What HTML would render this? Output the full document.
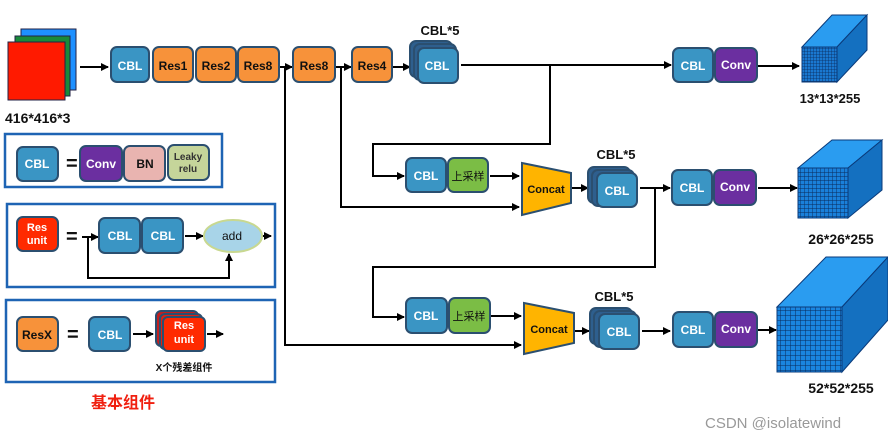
<!DOCTYPE html>
<html><head><meta charset="utf-8"><style>
html,body{margin:0;padding:0;background:#fff;}
svg{display:block;}
text{font-family:"Liberation Sans","Noto Sans CJK SC",sans-serif;font-weight:bold;}
</style></head><body>
<svg width="888" height="438" viewBox="0 0 888 438" xmlns="http://www.w3.org/2000/svg">
<defs>
<marker id="ar" markerWidth="8" markerHeight="8" refX="7" refY="4" orient="auto" markerUnits="userSpaceOnUse"><path d="M0,0 L8,4 L0,8 z" fill="#000"/></marker>
<pattern id="g1" width="3" height="3" patternUnits="userSpaceOnUse"><rect width="3" height="3" fill="#1a78d0"/><path d="M0,0H3M0,0V3" stroke="#0a2a5a" stroke-width="0.8"/></pattern>
<pattern id="g2" width="4" height="4" patternUnits="userSpaceOnUse"><rect width="4" height="4" fill="#1a80da"/><path d="M0,0H4M0,0V4" stroke="#0a2a5a" stroke-width="0.9"/></pattern>
<pattern id="g3" width="5" height="5" patternUnits="userSpaceOnUse"><rect width="5" height="5" fill="#1a85e0"/><path d="M0,0H5M0,0V5" stroke="#0a2a5a" stroke-width="1"/></pattern>
</defs>
<g stroke="#000" stroke-width="2" fill="none">
<line x1="80" y1="67" x2="108" y2="67" marker-end="url(#ar)"/>
<line x1="280" y1="67" x2="292" y2="67" marker-end="url(#ar)"/>
<line x1="336" y1="67" x2="351" y2="67" marker-end="url(#ar)"/>
<line x1="393" y1="67" x2="410" y2="67" marker-end="url(#ar)"/>
<polyline points="285,67 285,345 521,345" marker-end="url(#ar)"/>
<polyline points="341,67 341,207 519,207" marker-end="url(#ar)"/>
<line x1="461" y1="65" x2="671" y2="65" marker-end="url(#ar)"/>
<polyline points="550,65 550,144 373,144 373,176 404,176" marker-end="url(#ar)"/>
<line x1="758" y1="66" x2="799" y2="66" marker-end="url(#ar)"/>
<line x1="490" y1="176" x2="519" y2="176" marker-end="url(#ar)"/>
<line x1="572" y1="188" x2="588" y2="188" marker-end="url(#ar)"/>
<line x1="640" y1="188" x2="670" y2="188" marker-end="url(#ar)"/>
<polyline points="655,188 655,267 373,267 373,317 404,317" marker-end="url(#ar)"/>
<line x1="758" y1="188" x2="797" y2="188" marker-end="url(#ar)"/>
<line x1="491" y1="316" x2="521" y2="316" marker-end="url(#ar)"/>
<line x1="575" y1="331" x2="589" y2="331" marker-end="url(#ar)"/>
<line x1="642" y1="331" x2="670" y2="331" marker-end="url(#ar)"/>
<line x1="758" y1="330" x2="776" y2="330" marker-end="url(#ar)"/>
<line x1="82" y1="237" x2="98" y2="237" marker-end="url(#ar)"/>
<line x1="185" y1="236" x2="203" y2="236" marker-end="url(#ar)"/>
<line x1="262" y1="236" x2="271" y2="236" marker-end="url(#ar)"/>
<polyline points="88,237 88,278 229,278 229,254" marker-end="url(#ar)"/>
<line x1="133" y1="334" x2="153" y2="334" marker-end="url(#ar)"/>
<line x1="207" y1="334" x2="223" y2="334" marker-end="url(#ar)"/>
</g>
<rect x="21" y="29" width="55" height="61" fill="#1e90ff" stroke="#224" stroke-width="1"/>
<rect x="15" y="36" width="55" height="60" fill="#1a8a3a" stroke="#224" stroke-width="1"/>
<rect x="8" y="42" width="57" height="58" fill="#ff1a00" stroke="#224" stroke-width="1"/>
<text x="5" y="123" font-size="14" fill="#111">416*416*3</text>
<g stroke="#2b4f70" stroke-width="2">
<rect x="111" y="47" width="38" height="35" rx="6" fill="#3a95c4"/>
<rect x="153" y="47" width="40" height="35" rx="6" fill="#f7923a"/>
<rect x="196" y="47" width="40" height="35" rx="6" fill="#f7923a"/>
<rect x="238" y="47" width="41" height="35" rx="6" fill="#f7923a"/>
<rect x="293" y="47" width="42" height="35" rx="6" fill="#f7923a"/>
<rect x="352" y="47" width="40" height="35" rx="6" fill="#f7923a"/>
<rect x="410" y="41" width="42" height="36" rx="6" fill="#2e5f8e"/>
<rect x="414" y="44" width="42" height="36" rx="6" fill="#2e5f8e"/>
<rect x="418" y="48" width="40" height="35" rx="6" fill="#3a95c4"/>
<rect x="588" y="167" width="42" height="36" rx="6" fill="#2e5f8e"/>
<rect x="592" y="170" width="42" height="36" rx="6" fill="#2e5f8e"/>
<rect x="597" y="173" width="40" height="34" rx="6" fill="#3a95c4"/>
<rect x="590" y="308" width="42" height="36" rx="6" fill="#2e5f8e"/>
<rect x="594" y="311" width="42" height="36" rx="6" fill="#2e5f8e"/>
<rect x="599" y="314" width="40" height="35" rx="6" fill="#3a95c4"/>
<rect x="673" y="48" width="40" height="34" rx="6" fill="#3a95c4"/>
<rect x="715" y="48" width="42" height="34" rx="6" fill="#6b2fa0"/>
<rect x="672" y="170" width="40" height="35" rx="6" fill="#3a95c4"/>
<rect x="714" y="170" width="42" height="35" rx="6" fill="#6b2fa0"/>
<rect x="673" y="312" width="40" height="35" rx="6" fill="#3a95c4"/>
<rect x="715" y="312" width="42" height="35" rx="6" fill="#6b2fa0"/>
<rect x="406" y="158" width="40" height="34" rx="6" fill="#3a95c4"/>
<rect x="448" y="158" width="40" height="34" rx="6" fill="#7bbd45"/>
<rect x="406" y="298" width="41" height="35" rx="6" fill="#3a95c4"/>
<rect x="449" y="298" width="41" height="35" rx="6" fill="#7bbd45"/>
</g>
<polygon points="522,163 571,173 571,203 522,215" fill="#ffb400" stroke="#2b4f70" stroke-width="2"/>
<polygon points="524,303 574,313 574,343 524,354" fill="#ffb400" stroke="#2b4f70" stroke-width="2"/>
<g font-size="12" fill="#fff" text-anchor="middle">
<text x="130" y="70">CBL</text>
<text x="437" y="70">CBL</text><text x="617" y="195">CBL</text><text x="619" y="336">CBL</text>
<text x="693" y="70">CBL</text><text x="692" y="192">CBL</text><text x="693" y="334">CBL</text>
<text x="736" y="69">Conv</text><text x="735" y="191">Conv</text><text x="736" y="333">Conv</text>
<text x="426" y="180">CBL</text><text x="426" y="320">CBL</text>
</g>
<g font-size="12" fill="#111" text-anchor="middle">
<text x="173" y="70">Res1</text><text x="216" y="70">Res2</text><text x="258" y="70">Res8</text>
<text x="314" y="70">Res8</text><text x="372" y="70">Res4</text>
<text x="546" y="193" font-size="11">Concat</text><text x="549" y="333" font-size="11">Concat</text>
<text x="468" y="180" font-size="11" style="font-weight:normal">上采样</text>
<text x="469" y="320" font-size="11" style="font-weight:normal">上采样</text>
<text x="440" y="35" font-size="13">CBL*5</text>
<text x="616" y="159" font-size="13">CBL*5</text>
<text x="614" y="301" font-size="13">CBL*5</text>
<text x="830" y="103" font-size="13">13*13*255</text>
<text x="841" y="244" font-size="14">26*26*255</text>
<text x="841" y="393" font-size="14">52*52*255</text>
</g>
<polygon points="802,47 832,15 867,15 837,47" fill="#2a9cf0" stroke="#0a3a7a"/>
<polygon points="837,47 867,15 867,50 837,82" fill="#1470c0" stroke="#0a3a7a"/>
<rect x="802" y="47" width="35" height="35" fill="url(#g1)" stroke="#0a3a7a"/>
<polygon points="798,168 832,140 882,140 848,168" fill="#2a9cf0" stroke="#0a3a7a"/>
<polygon points="848,168 882,140 882,190 848,218" fill="#1470c0" stroke="#0a3a7a"/>
<rect x="798" y="168" width="50" height="50" fill="url(#g2)" stroke="#0a3a7a"/>
<polygon points="777,307 826,257 888,257 842,307" fill="#2a9cf0" stroke="#0a3a7a"/>
<polygon points="842,307 888,257 888,320 842,372" fill="#1470c0" stroke="#0a3a7a"/>
<rect x="777" y="307" width="65" height="65" fill="url(#g3)" stroke="#0a3a7a"/>
<g fill="none" stroke="#1e64b4" stroke-width="2.5">
<rect x="5" y="134" width="217" height="53"/>
<rect x="7" y="204" width="268" height="83"/>
<rect x="6" y="300" width="269" height="82"/>
</g>
<g stroke="#2b4f70" stroke-width="2">
<rect x="17" y="147" width="41" height="34" rx="6" fill="#3a95c4"/>
<rect x="80" y="146" width="42" height="35" rx="6" fill="#6b2fa0"/>
<rect x="124" y="146" width="41" height="35" rx="6" fill="#e9b4b0"/>
<rect x="168" y="145" width="41" height="35" rx="6" fill="#c5d59a"/>
<rect x="17" y="217" width="41" height="34" rx="6" fill="#ff2a00"/>
<rect x="99" y="218" width="41" height="35" rx="6" fill="#3a95c4"/>
<rect x="142" y="218" width="41" height="35" rx="6" fill="#3a95c4"/>
<rect x="17" y="317" width="41" height="34" rx="6" fill="#f7923a"/>
<rect x="89" y="317" width="41" height="34" rx="6" fill="#3a95c4"/>
<rect x="156" y="311" width="42" height="35" rx="5" fill="#c02020"/>
<rect x="160" y="314" width="42" height="35" rx="5" fill="#e02010"/>
<rect x="163" y="317" width="42" height="34" rx="5" fill="#ff2a00"/>
</g>
<ellipse cx="233" cy="236" rx="29" ry="16" fill="#a8d4e8" stroke="#c8d890" stroke-width="2"/>
<g font-size="12" text-anchor="middle">
<text x="37" y="168" fill="#fff">CBL</text>
<text x="101" y="168" fill="#fff">Conv</text>
<text x="145" y="168" fill="#111">BN</text>
<text x="188" y="160" fill="#333" font-size="10">Leaky</text>
<text x="188" y="172" fill="#333" font-size="10">relu</text>
<text x="37" y="231" fill="#fff" font-size="11">Res</text>
<text x="37" y="244" fill="#fff" font-size="11">unit</text>
<text x="120" y="240" fill="#fff">CBL</text>
<text x="163" y="240" fill="#fff">CBL</text>
<text x="232" y="240" fill="#111" style="font-weight:normal" font-size="12">add</text>
<text x="37" y="339" fill="#111">ResX</text>
<text x="110" y="339" fill="#fff">CBL</text>
<text x="184" y="329" fill="#fff" font-size="11">Res</text>
<text x="184" y="343" fill="#fff" font-size="11">unit</text>
<text x="184" y="371" fill="#111" font-size="10">X个残差组件</text>
<text x="123" y="408" fill="#f02010" font-size="16">基本组件</text>
</g>
<g font-size="20" fill="#111"><text x="66" y="170">=</text><text x="66" y="243">=</text><text x="67" y="341">=</text></g>
<text x="705" y="428" font-size="15" fill="#999" style="font-weight:normal">CSDN @isolatewind</text>
</svg>
</body></html>
